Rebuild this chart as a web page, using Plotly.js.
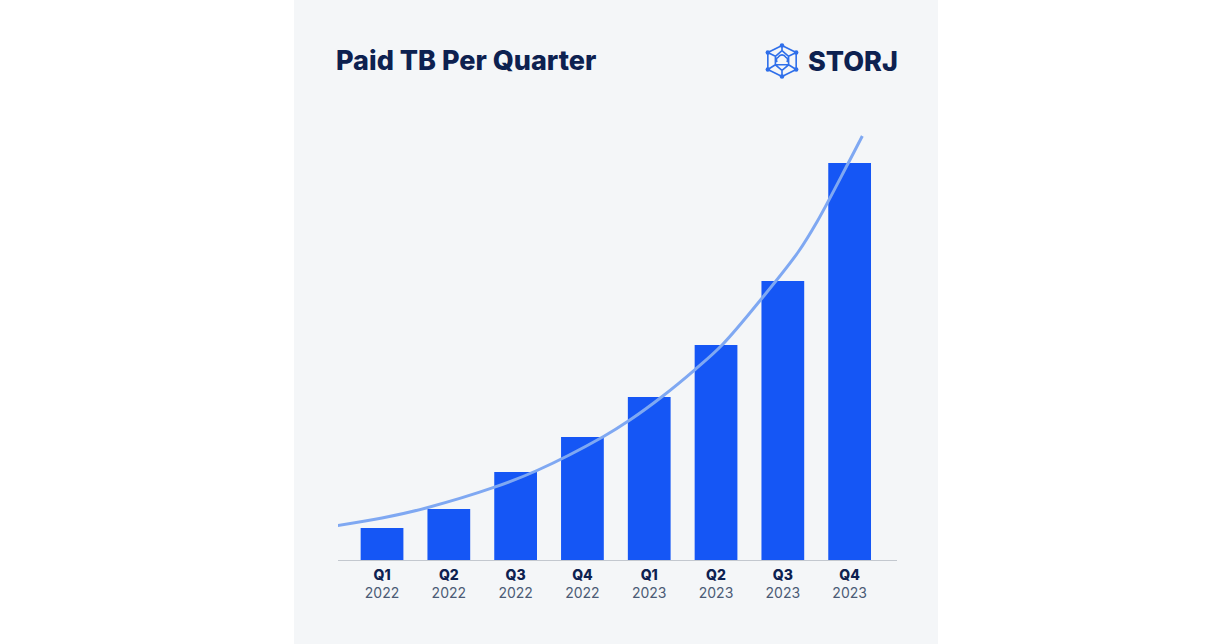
<!DOCTYPE html>
<html><head><meta charset="utf-8">
<script src="https://cdn.plot.ly/plotly-3.0.0.min.js"></script>
<style>html,body{margin:0;padding:0;background:#fff}#c{width:1232px;height:644px}</style>
</head><body><div id="c"></div>
<script>
const quarters=['Q1','Q2','Q3','Q4','Q1','Q2','Q3','Q4'];
const years=['2022','2022','2022','2022','2023','2023','2023','2023'];
const paidTB=[32,51,88,123,163,215,279,397];
const trendX=[-0.704,0,0.674,1.662,2.32,3.31,3.71,4.19,4.69,5.09,5.69,6.23,6.51,6.98,7.19];
const trendY=[34,42,52.3,72.3,89.5,123.3,140,163.3,190.7,215,262,308,338,397,424];
const tickPos=quarters.map((q,i)=>i);
const tickText=quarters.map((q,i)=>'<span style="font-weight:800;color:#0d2150">'+q+'</span><br>'+years[i]);
const logo='<svg xmlns="http://www.w3.org/2000/svg" viewBox="0 0 36 38"><g fill="none" stroke="#2f6fea" stroke-width="1.7" stroke-linejoin="round"><path d="M18 2.5 33 10V28L18 35.5 3 28V10Z"/><path d="M18 2.5V8M3 10l8 4M33 10l-8 4M3 28l8-5M33 28l-8-5M18 35.5V29M11 14l7-6 7 6 0 9-7 6-7-6ZM11 23h14M13 20a3 3 0 0 1 1-5 4.500 4.500 0 0 1 8 0 3 3 0 0 1 1 5"/></g><g fill="#2f6fea"><circle cx="18" cy="2.500" r="2.400"/><circle cx="33" cy="10" r="2.400"/><circle cx="33" cy="28" r="2.400"/><circle cx="18" cy="35.500" r="2.400"/><circle cx="3" cy="28" r="2.400"/><circle cx="3" cy="10" r="2.400"/></g></svg>';
const data=[
 {type:'bar',x:tickPos,y:paidTB,width:0.64,marker:{color:'#1556f5'},hoverinfo:'skip'},
 {type:'scatter',mode:'lines',x:trendX,y:trendY,cliponaxis:false,line:{color:'#7fa8f2',width:3,shape:'spline',smoothing:1},hoverinfo:'skip'}
];
const layout={
 width:1232,height:644,showlegend:false,
 paper_bgcolor:'#ffffff',plot_bgcolor:'rgba(0,0,0,0)',
 margin:{l:338,r:335,t:120,b:84,pad:0},
 font:{family:'Inter, sans-serif'},
 title:{text:'Paid TB Per Quarter',x:336/1232,xanchor:'left',y:1-61/644,yanchor:'middle',font:{family:'Inter, sans-serif',size:27,weight:800,color:'#0d2150'}},
 xaxis:{range:[-0.659,7.709],tickmode:'array',tickvals:tickPos,ticktext:tickText,ticks:'',ticklabelstandoff:2,showgrid:false,zeroline:false,showline:true,linecolor:'#c3c8cf',linewidth:1,tickfont:{family:'Inter, sans-serif',size:14,color:'#4b5b75'},fixedrange:true},
 yaxis:{range:[0,440],visible:false,fixedrange:true},
 shapes:[{type:'rect',xref:'paper',yref:'paper',layer:'below',x0:(294-338)/559,x1:(938-338)/559,y0:-84/440,y1:(440+120)/440,line:{width:0},fillcolor:'#f4f6f8'}],
 images:[{source:'data:image/svg+xml;utf8,'+encodeURIComponent(logo),xref:'paper',yref:'paper',x:(765-338)/559,y:(560-42)/440,sizex:34/559,sizey:38/440,xanchor:'left',yanchor:'top',layer:'above'}],
 annotations:[{text:'STORJ',xref:'paper',yref:'paper',x:(806-338)/559,y:(560-61)/440,xanchor:'left',yanchor:'middle',showarrow:false,font:{family:'Inter, sans-serif',size:27,weight:800,color:'#0d2150'}}]
};
Plotly.newPlot('c',data,layout,{displayModeBar:false,staticPlot:true});
</script></body></html>
